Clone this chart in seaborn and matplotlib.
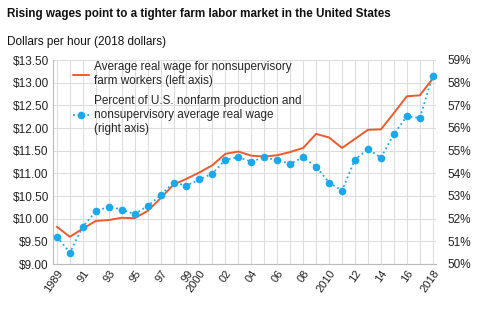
import numpy as np
import pandas as pd
import matplotlib
matplotlib.use("Agg")
import matplotlib.pyplot as plt
import seaborn as sns

years = list(range(1989, 2019))
farm_wage = [9.82, 9.60, 9.78, 9.95, 9.97, 10.02, 10.01, 10.17, 10.45, 10.75,
             10.88, 11.02, 11.18, 11.43, 11.48, 11.39, 11.37, 11.40, 11.47, 11.56,
             11.87, 11.79, 11.56, 11.76, 11.96, 11.97, 12.33, 12.70, 12.72, 13.09]
pct_nonfarm = [51.2, 50.5, 51.65, 52.32, 52.53, 52.4, 52.2, 52.56, 53.03, 53.59,
               53.46, 53.73, 53.99, 54.6, 54.71, 54.52, 54.71, 54.57, 54.42, 54.71,
               54.29, 53.59, 53.24, 54.61, 55.07, 54.69, 55.73, 56.52, 56.44, 58.31]
tick_years = [1989, 1991, 1993, 1995, 1997, 1999, 2000, 2002, 2004, 2006, 2008,
              2010, 2012, 2014, 2016, 2018]
tick_labels = ["1989", "91", "93", "95", "97", "99", "2000", "02", "04", "06", "08",
               "2010", "12", "14", "16", "2018"]
left_ticks = [9.0, 9.5, 10.0, 10.5, 11.0, 11.5, 12.0, 12.5, 13.0, 13.5]
right_ticks = list(range(50, 60))

red = "#EE5A2B"
blue = "#1AAAEB"
grid_col = "#DDDDDD"

sns.set_style("white")
plt.rcParams['font.family'] = ['Liberation Sans', 'DejaVu Sans']

df = pd.DataFrame({"year": years, "wage": farm_wage, "pct": pct_nonfarm})

fig = plt.figure(figsize=(4.8, 3.09), dpi=100)
ax = fig.add_axes([53 / 480, 45 / 309, 383 / 480, 204 / 309])
ax2 = ax.twinx()

sns.lineplot(data=df, x="year", y="wage", ax=ax, color=red, linewidth=1.4,
             label="Average real wage for nonsupervisory\nfarm workers (left axis)", legend=False)
sns.lineplot(data=df, x="year", y="pct", ax=ax2, color=blue, linewidth=1.3, linestyle=":",
             marker="o", markersize=5.5, markeredgewidth=0,
             label="Percent of U.S. nonfarm production and\nnonsupervisory average real wage\n(right axis)",
             legend=False)

ax.set_xlim(1988.7, 2018.25)
ax.set_ylim(9, 13.5)
ax2.set_ylim(50, 59)
ax.set_xticks(years, minor=True)
ax.set_xticks(tick_years)
ax.set_xticklabels(tick_labels, rotation=55, ha="right", rotation_mode="anchor", fontsize=8)
ax.set_yticks(left_ticks)
ax.set_yticklabels([f"${v:.2f}" for v in left_ticks], fontsize=8.5)
ax2.set_yticks(right_ticks)
ax2.set_yticklabels([f"{v}%" for v in right_ticks], fontsize=8.5)

ax.grid(True, which="both", axis="x", color=grid_col, linewidth=0.8)
ax.grid(True, which="major", axis="y", color=grid_col, linewidth=0.8)
ax.set_axisbelow(True)
for a in (ax, ax2):
    for s in a.spines.values():
        s.set_visible(False)
    a.set_xlabel("")
    a.set_ylabel("")
ax.spines["left"].set_visible(True)
ax.spines["left"].set_color("#BBBBBB")
ax.spines["bottom"].set_visible(True)
ax.spines["bottom"].set_color("#BBBBBB")
ax.tick_params(axis="both", which="both", length=0, pad=3, colors="#222222")
ax2.tick_params(axis="y", length=0, pad=8, colors="#222222")

h1, l1 = ax.get_legend_handles_labels()
h2, l2 = ax2.get_legend_handles_labels()
ax2.legend(h1 + h2, l1 + l2, loc="upper left", bbox_to_anchor=(0.025, 1.045), frameon=False,
           fontsize=8.5, handlelength=1.3, labelspacing=0.65, handletextpad=0.5)

fig.text(7 / 480, 1 - 17 / 309, "Rising wages point to a tighter farm labor market in the United States",
         fontsize=8.4, fontweight="bold", color="#111111")
fig.text(7 / 480, 1 - 45 / 309, "Dollars per hour (2018 dollars)", fontsize=8.5, color="#111111")

fig.savefig("out.png", dpi=100)
